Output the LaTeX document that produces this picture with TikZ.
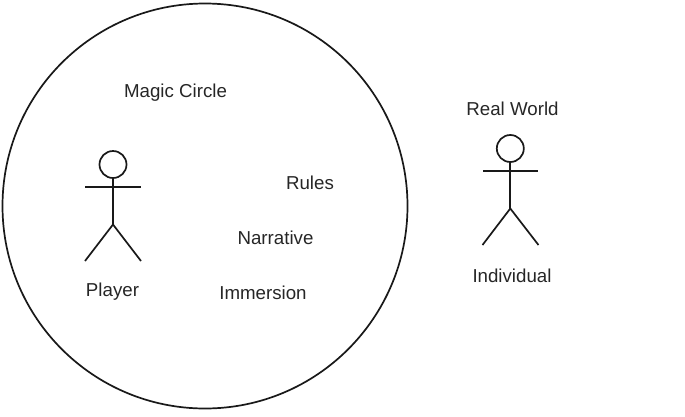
\documentclass[tikz,border=0pt]{standalone}
\usepackage{fontspec}
\setmainfont{Liberation Sans}
\definecolor{inktext}{gray}{0.15}
\tikzset{
  stick/.style={line width=1.7pt,color=black!90},
  head/.style={circle,draw,line width=1.7pt,color=black!90,minimum size=27,inner sep=0pt,outer sep=0pt},
  caption/.style={font=\fontsize{18.7}{21}\selectfont,inner sep=0pt,text=inktext}
}
\begin{document}
\begin{tikzpicture}[x=1pt,y=-1pt]
  \useasboundingbox (0,0) rectangle (685,416);
  % circle
  \node[circle,draw,line width=1.7pt,color=black!90,minimum size=405,inner sep=0pt,outer sep=0pt] (magic) at (205,206) {};
  \node[caption] (circlelabel) at (175.5,92.5) {Magic Circle};
  \node[caption] (rules) at (310,182.5) {Rules};
  \node[caption] (narrative) at (275.5,238) {Narrative};
  \node[caption] (immersion) at (263,293) {Immersion};
  % player
  \node[head] (phead) at (113,164.5) {};
  \coordinate (phip) at (113,224.5);
  \coordinate (parml) at (85,187.2);
  \coordinate (parmr) at (141,187.2);
  \coordinate (plegl) at (85,261);
  \coordinate (plegr) at (141,261);
  \draw[stick] (phead.south) -- (phip);
  \draw[stick] (parml) -- (parmr);
  \draw[stick] (plegl) -- (phip) -- (plegr);
  \node[caption] (player) at (112.5,292) {Player};
  % individual
  \node[caption] (world) at (512.5,109) {Real World};
  \node[head] (ihead) at (510.3,148.5) {};
  \coordinate (ihip) at (510.3,208.5);
  \coordinate (iarml) at (483,171);
  \coordinate (iarmr) at (538,171);
  \coordinate (ilegl) at (482.5,245);
  \coordinate (ilegr) at (538.5,245);
  \draw[stick] (ihead.south) -- (ihip);
  \draw[stick] (iarml) -- (iarmr);
  \draw[stick] (ilegl) -- (ihip) -- (ilegr);
  \node[caption] (individual) at (512,276) {Individual};
\end{tikzpicture}
\end{document}
